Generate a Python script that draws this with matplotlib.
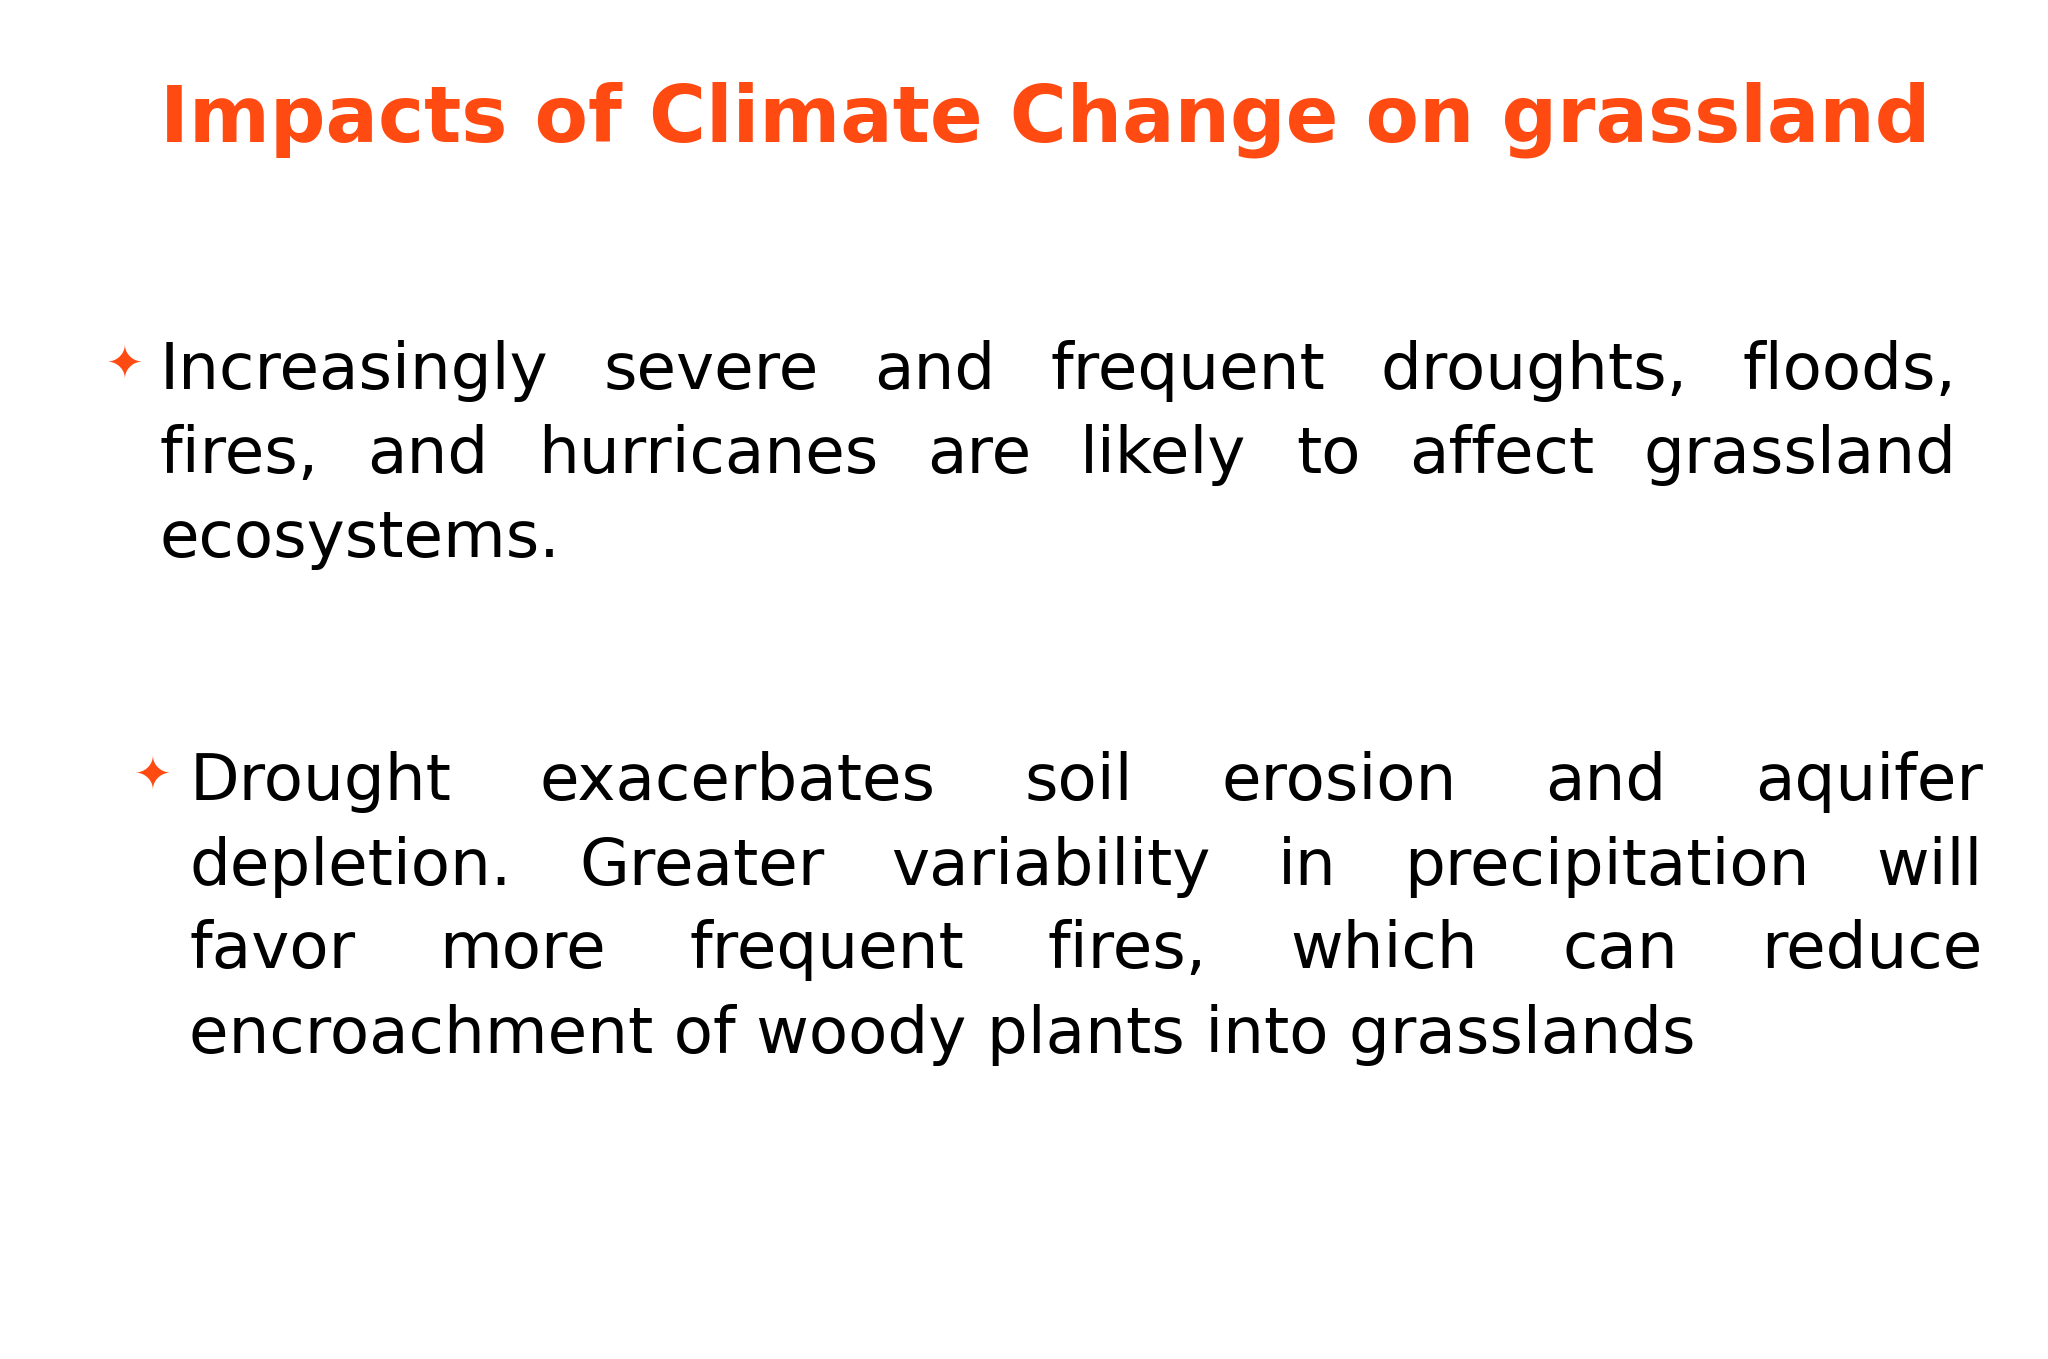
import matplotlib
matplotlib.use("Agg")
import matplotlib.pyplot as plt

title = "Impacts of Climate Change on grassland"
para1 = ["Increasingly severe and frequent droughts, floods,",
         "fires, and hurricanes are likely to affect grassland",
         "ecosystems."]
para2 = ["Drought exacerbates soil erosion and aquifer",
         "depletion. Greater variability in precipitation will",
         "favor more frequent fires, which can reduce",
         "encroachment of woody plants into grasslands"]

W, H = 1568, 1040
fig = plt.figure(figsize=(20.48, 13.59), dpi=100)
fig.patch.set_facecolor("white")
fig.canvas.draw()
r = fig.canvas.get_renderer()
FONT = "DejaVu Sans"

def fx(x): return x / W
def fy(y): return 1 - y / H

def width_px(s, size, weight="normal"):
    t = fig.text(0, 0, s, fontsize=size, family=FONT, weight=weight)
    w = t.get_window_extent(r).width
    t.remove()
    return w

# title scaled to target width
tw_target = (1478 - 122) / W * 2048
ts = 60 * tw_target / width_px(title, 60, "bold")
fig.text(fx(800), fy(108), title, ha="center", va="baseline", fontsize=ts,
         family=FONT, weight="bold", color="#FF4A12")

# body font size from last line width
bw_target = (1296 - 145) / W * 2048
bs = 40 * bw_target / width_px(para2[-1], 40)

def draw_para(lines, x0, x1, baselines):
    for i, (line, yb) in enumerate(zip(lines, baselines)):
        last = i == len(lines) - 1
        if last:
            fig.text(fx(x0), fy(yb), line, fontsize=bs, family=FONT, va="baseline")
            continue
        words = line.split()
        ws = [width_px(w, bs) for w in words]
        total = (x1 - x0) / W * 2048
        gap = (total - sum(ws)) / (len(words) - 1)
        xp = x0 / W * 2048
        for w, wd in zip(words, ws):
            fig.text(xp / 2048, fy(yb), w, fontsize=bs, family=FONT, va="baseline")
            xp += wd + gap

draw_para(para1, 122, 1498, [298, 362, 426])
draw_para(para2, 145, 1518, [612, 677, 741, 806])

for (x, y) in [(95, 280), (116, 594)]:
    fig.text(fx(x), fy(y), "\u2726", fontsize=bs * 0.7, family=FONT,
             color="#FF4A12", ha="center", va="center")

fig.savefig("out.png", dpi=100, facecolor="white")
